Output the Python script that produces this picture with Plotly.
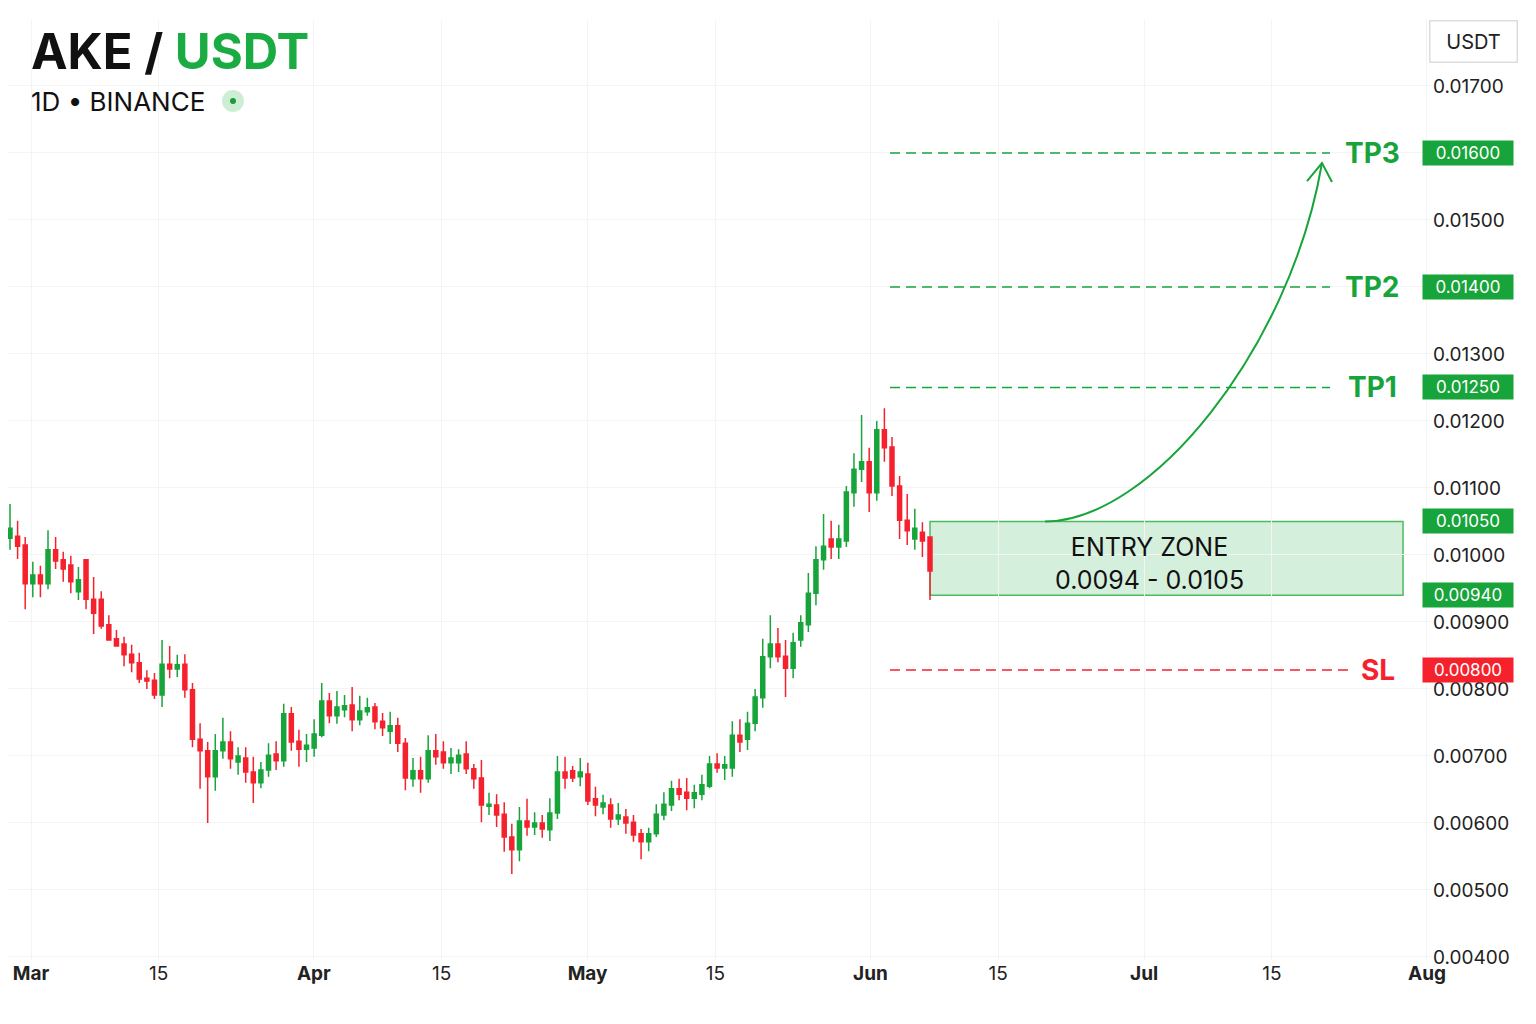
import pandas as pd
import plotly.graph_objects as go

base_asset = "AKE"
quote_asset = "USDT"
subtitle = "1D • BINANCE"

# daily candles, oldest first
open_ = [0.01025, 0.01028, 0.01015, 0.00957, 0.00970, 0.00957, 0.01008, 0.00993, 0.00985, 0.00945,
         0.00993, 0.00934, 0.00934, 0.00896, 0.00875, 0.00867, 0.00852, 0.00839, 0.00816, 0.00813,
         0.00791, 0.00837, 0.00830, 0.00837, 0.00799, 0.00725, 0.00708, 0.00669, 0.00708, 0.00721,
         0.00691, 0.00697, 0.00676, 0.00660, 0.00679, 0.00703, 0.00693, 0.00763, 0.00722, 0.00710,
         0.00712, 0.00731, 0.00782, 0.00760, 0.00769, 0.00776, 0.00754, 0.00766, 0.00773, 0.00752,
         0.00737, 0.00745, 0.00719, 0.00666, 0.00678, 0.00666, 0.00708, 0.00706, 0.00690, 0.00690,
         0.00703, 0.00681, 0.00667, 0.00625, 0.00627, 0.00613, 0.00579, 0.00560, 0.00603, 0.00594,
         0.00600, 0.00590, 0.00615, 0.00676, 0.00678, 0.00669, 0.00673, 0.00636, 0.00624, 0.00627,
         0.00606, 0.00609, 0.00601, 0.00584, 0.00572, 0.00584, 0.00612, 0.00627, 0.00651, 0.00646,
         0.00637, 0.00643, 0.00655, 0.00688, 0.00682, 0.00682, 0.00731, 0.00725, 0.00749, 0.00787,
         0.00848, 0.00867, 0.00849, 0.00831, 0.00873, 0.00896, 0.00943, 0.00993, 0.01024, 0.01012,
         0.01021, 0.01093, 0.01128, 0.01139, 0.01093, 0.01187, 0.01161, 0.01103, 0.01052, 0.01024,
         0.01034, 0.01027]
high = [0.01076, 0.01051, 0.01027, 0.00990, 0.00984, 0.01037, 0.01027, 0.01005, 0.00999, 0.00982,
        0.00994, 0.00967, 0.00946, 0.00910, 0.00888, 0.00878, 0.00866, 0.00854, 0.00828, 0.00824,
        0.00873, 0.00864, 0.00851, 0.00852, 0.00809, 0.00749, 0.00721, 0.00733, 0.00757, 0.00737,
        0.00713, 0.00713, 0.00699, 0.00691, 0.00719, 0.00722, 0.00778, 0.00773, 0.00739, 0.00733,
        0.00755, 0.00809, 0.00794, 0.00797, 0.00791, 0.00803, 0.00790, 0.00787, 0.00779, 0.00764,
        0.00766, 0.00757, 0.00727, 0.00697, 0.00699, 0.00731, 0.00733, 0.00722, 0.00712, 0.00710,
        0.00722, 0.00688, 0.00694, 0.00645, 0.00643, 0.00631, 0.00599, 0.00624, 0.00636, 0.00616,
        0.00612, 0.00637, 0.00700, 0.00699, 0.00685, 0.00697, 0.00690, 0.00654, 0.00642, 0.00637,
        0.00630, 0.00621, 0.00612, 0.00591, 0.00593, 0.00628, 0.00646, 0.00663, 0.00666, 0.00667,
        0.00657, 0.00672, 0.00700, 0.00704, 0.00700, 0.00752, 0.00755, 0.00766, 0.00800, 0.00875,
        0.00910, 0.00891, 0.00873, 0.00884, 0.00910, 0.00973, 0.01013, 0.01061, 0.01051, 0.01045,
        0.01103, 0.01152, 0.01209, 0.01160, 0.01200, 0.01219, 0.01176, 0.01118, 0.01091, 0.01069,
        0.01049, 0.01027]
low = [0.01008, 0.00994, 0.00919, 0.00937, 0.00937, 0.00949, 0.00979, 0.00960, 0.00943, 0.00933,
       0.00919, 0.00882, 0.00890, 0.00872, 0.00863, 0.00834, 0.00825, 0.00809, 0.00800, 0.00785,
       0.00773, 0.00816, 0.00818, 0.00787, 0.00713, 0.00651, 0.00600, 0.00648, 0.00696, 0.00681,
       0.00672, 0.00660, 0.00630, 0.00652, 0.00669, 0.00679, 0.00684, 0.00708, 0.00684, 0.00691,
       0.00699, 0.00728, 0.00749, 0.00748, 0.00758, 0.00737, 0.00746, 0.00760, 0.00740, 0.00730,
       0.00718, 0.00706, 0.00649, 0.00654, 0.00645, 0.00660, 0.00687, 0.00681, 0.00673, 0.00676,
       0.00673, 0.00651, 0.00601, 0.00612, 0.00594, 0.00557, 0.00524, 0.00543, 0.00581, 0.00582,
       0.00578, 0.00573, 0.00606, 0.00651, 0.00661, 0.00655, 0.00627, 0.00610, 0.00613, 0.00593,
       0.00597, 0.00584, 0.00572, 0.00546, 0.00558, 0.00579, 0.00604, 0.00618, 0.00634, 0.00619,
       0.00622, 0.00634, 0.00652, 0.00675, 0.00664, 0.00669, 0.00706, 0.00709, 0.00737, 0.00772,
       0.00831, 0.00840, 0.00788, 0.00816, 0.00863, 0.00885, 0.00925, 0.00978, 0.00994, 0.00994,
       0.01012, 0.01072, 0.01109, 0.01064, 0.01081, 0.01139, 0.01088, 0.01024, 0.01015, 0.01008,
       0.00997, 0.00933]
close = [0.01040, 0.01013, 0.00957, 0.00970, 0.00957, 0.01008, 0.00991, 0.00979, 0.00960, 0.00963,
         0.00934, 0.00913, 0.00894, 0.00873, 0.00864, 0.00851, 0.00839, 0.00815, 0.00812, 0.00791,
         0.00837, 0.00830, 0.00836, 0.00799, 0.00725, 0.00708, 0.00669, 0.00708, 0.00721, 0.00696,
         0.00700, 0.00676, 0.00660, 0.00679, 0.00701, 0.00693, 0.00763, 0.00721, 0.00710, 0.00716,
         0.00733, 0.00782, 0.00760, 0.00773, 0.00775, 0.00754, 0.00767, 0.00772, 0.00751, 0.00742,
         0.00745, 0.00719, 0.00667, 0.00678, 0.00666, 0.00708, 0.00699, 0.00690, 0.00697, 0.00701,
         0.00681, 0.00666, 0.00627, 0.00628, 0.00612, 0.00579, 0.00560, 0.00603, 0.00594, 0.00600,
         0.00591, 0.00615, 0.00676, 0.00667, 0.00667, 0.00676, 0.00633, 0.00627, 0.00630, 0.00606,
         0.00612, 0.00600, 0.00582, 0.00572, 0.00584, 0.00613, 0.00628, 0.00651, 0.00643, 0.00637,
         0.00645, 0.00657, 0.00688, 0.00682, 0.00687, 0.00731, 0.00721, 0.00749, 0.00788, 0.00848,
         0.00867, 0.00848, 0.00831, 0.00869, 0.00899, 0.00943, 0.00993, 0.01013, 0.01012, 0.01024,
         0.01094, 0.01128, 0.01139, 0.01093, 0.01187, 0.01160, 0.01103, 0.01052, 0.01036, 0.01040,
         0.01021, 0.00976]

tp_names = ["TP1", "TP2", "TP3"]
tp_prices = [0.0125, 0.0140, 0.0160]
sl_price = 0.0080
entry_low = 0.0094
entry_high = 0.0105

y_ticks = [0.004, 0.005, 0.006, 0.007, 0.008, 0.009, 0.010, 0.011, 0.012, 0.013, 0.014, 0.015, 0.016, 0.017]
y_labels = ["0.00400", "0.00500", "0.00600", "0.00700", "0.00800", "0.00900", "0.01000",
            "0.01100", "0.01200", "0.01300", "", "0.01500", "", "0.01700"]
x_ticks = ["2025-03-01", "2025-03-15", "2025-04-01", "2025-04-15", "2025-05-01", "2025-05-15",
           "2025-06-01", "2025-06-15", "2025-07-01", "2025-07-15", "2025-08-01"]
x_labels = ["<b>Mar</b>", "15", "<b>Apr</b>", "15", "<b>May</b>", "15",
            "<b>Jun</b>", "15", "<b>Jul</b>", "15", "<b>Aug</b>"]

GREEN = "#17a43b"
RED = "#f5222d"
FONT = "Inter"
SL_LIFT = 19  # px: the SL marker sits a little above its axis tick so both stay readable

dates = pd.date_range("2025-02-26 16:45", periods=len(close), freq="20h")

x_start = pd.Timestamp("2025-02-26 11:30")
x_end = pd.Timestamp("2025-08-01 13:12")


def xp(t):
    # date -> paper fraction along the x axis
    return (pd.Timestamp(t) - x_start) / (x_end - x_start)


fig = go.Figure()
fig.add_trace(go.Candlestick(
    x=dates, open=open_, high=high, low=low, close=close,
    increasing=dict(line=dict(color=GREEN, width=1.5), fillcolor=GREEN),
    decreasing=dict(line=dict(color=RED, width=1.5), fillcolor=RED),
    whiskerwidth=0, hoverinfo="skip", showlegend=False,
))

zone_start = dates[-1]
zone_end = pd.Timestamp("2025-07-29 09:00")
fig.add_shape(type="rect", xref="x", yref="y", x0=zone_start, x1=zone_end,
              y0=entry_low, y1=entry_high, fillcolor="rgba(40,175,75,0.2)",
              line=dict(color="#4dbb62", width=1.5), layer="below")
fig.add_annotation(x=zone_start + (zone_end - zone_start) / 2, y=(entry_low + entry_high) / 2,
                   xshift=-17, yshift=-5,
                   text=f"ENTRY ZONE<br>{entry_low:.4f} - {entry_high:.4f}", showarrow=False,
                   font=dict(family=FONT, size=25, color="#111111"))

line_start = pd.Timestamp("2025-06-03 03:30")
for name, price in zip(tp_names, tp_prices):
    fig.add_shape(type="line", xref="x", yref="y", x0=line_start, x1="2025-07-21 09:00",
                  y0=price, y1=price, line=dict(color=GREEN, width=1.5, dash="10px,6px"))
    fig.add_annotation(xref="paper", yref="y", x=0.9579, xanchor="center", y=price,
                       text=f"<b>{name}</b>", showarrow=False,
                       font=dict(family=FONT, size=28, color=GREEN))
fig.add_shape(type="line", xref="x", yref="y", ysizemode="pixel", yanchor=sl_price,
              x0=line_start, x1="2025-07-23 13:40", y0=SL_LIFT, y1=SL_LIFT,
              line=dict(color=RED, width=1.5, dash="10px,6px"))
fig.add_annotation(xref="paper", yref="y", x=0.9621, xanchor="center", y=sl_price, yshift=SL_LIFT,
                   text="<b>SL</b>", showarrow=False, font=dict(family=FONT, size=28, color=RED))

# price badges on the axis
badges = [(p, GREEN, 0) for p in tp_prices] + [(entry_high, GREEN, 0), (entry_low, GREEN, 0),
                                               (sl_price, RED, SL_LIFT)]
for price, color, shift in badges:
    fig.add_annotation(xref="paper", yref="y", x=1.0253, xanchor="center", y=price, yshift=shift,
                       text=f"{price:.5f}", showarrow=False, bgcolor=color,
                       width=86, height=20, borderpad=2,
                       font=dict(family=FONT, size=17, color="white"))

# projected move arrow
a0, a1, a2, a3 = "2025-06-20 03:20", "2025-07-01 15:20", "2025-07-16 23:50", "2025-07-20 11:50"
fig.add_shape(type="path", xref="paper", yref="y",
              path=(f"M {xp(a0)},{entry_high} C {xp(a1)},{entry_high} "
                    f"{xp(a2)},0.01306 {xp(a3)},0.01585"),
              line=dict(color=GREEN, width=2))
fig.add_shape(type="path", xref="paper", yref="y", xsizemode="pixel", ysizemode="pixel",
              xanchor=xp(a3), yanchor=0.01585, path="M -15,-18 L 0,0 L 10,-19",
              line=dict(color=GREEN, width=2))

# header
fig.add_annotation(xref="paper", yref="paper", x=0.0147, y=0.966, xanchor="left", yanchor="middle",
                   text=f"<b>{base_asset} / <span style='color:#1aab42'>{quote_asset}</span></b>",
                   showarrow=False, font=dict(family=FONT, size=49, color="#111111"))
fig.add_annotation(xref="paper", yref="paper", x=0.0147, y=0.9138, xanchor="left", yanchor="middle",
                   text=subtitle, showarrow=False, font=dict(family=FONT, size=26, color="#111111"))
for r, col in [(11, "#cdeed5"), (3, "#1a9c3a")]:
    fig.add_shape(type="circle", xref="paper", yref="paper", xsizemode="pixel", ysizemode="pixel",
                  xanchor=0.158, yanchor=0.9138, x0=-r, x1=r, y0=-r, y1=r,
                  fillcolor=col, line=dict(width=0))
fig.add_annotation(xref="paper", yref="paper", x=1.0288, xanchor="center", y=0.9766,
                   yanchor="middle", text=quote_asset, showarrow=False, bgcolor="white",
                   bordercolor="#dddddd", borderwidth=1.5, borderpad=3, width=80, height=34,
                   font=dict(family=FONT, size=20, color="#222222"))

# the page adds an 8px body margin, so the figure is laid out 8px up/left of the target
fig.update_layout(
    width=1536, height=1024,
    margin=dict(l=0, r=112, t=12, b=72),
    plot_bgcolor="white", paper_bgcolor="white",
    font=dict(family=FONT, color="#222222"),
    boxgap=0.25,
    xaxis=dict(type="date", range=[x_start, x_end], tickvals=x_ticks, ticktext=x_labels,
               showgrid=True, gridcolor="#f4f4f4", zeroline=False, showline=False, ticks="",
               rangeslider=dict(visible=False), tickfont=dict(size=19, color="#222222")),
    yaxis=dict(side="right", range=[0.003955, 0.017985], tickvals=y_ticks, ticktext=y_labels,
               showgrid=True, gridcolor="#f4f4f4", zeroline=False, showline=False, ticks="",
               ticklabelstandoff=0, tickfont=dict(size=19, color="#222222")),
)

fig.write_html("out.html")
